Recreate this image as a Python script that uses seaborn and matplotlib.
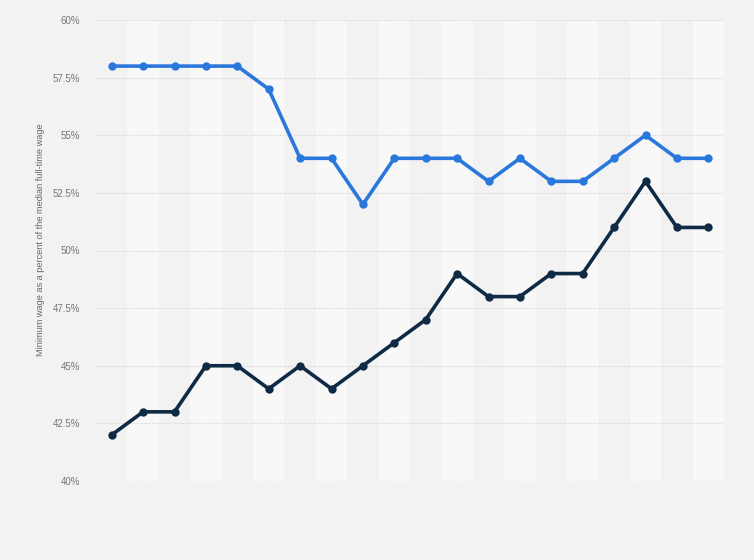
import pandas as pd
import matplotlib
matplotlib.use('Agg')
import matplotlib.pyplot as plt
import seaborn as sns

# values (x labels are not shown there)
points = list(range(20))
series_a = [58, 58, 58, 58, 58, 57, 54, 54, 52, 54, 54, 54, 53, 54, 53, 53, 54, 55, 54, 54]
series_b = [42, 43, 43, 45, 45, 44, 45, 44, 45, 46, 47, 49, 48, 48, 49, 49, 51, 53, 51, 51]
y_ticks = [40, 42.5, 45, 47.5, 50, 52.5, 55, 57.5, 60]
y_labels = ['40%', '42.5%', '45%', '47.5%', '50%', '52.5%', '55%', '57.5%', '60%']

data = pd.DataFrame({
    'point': points * 2,
    'value': series_a + series_b,
    'series': ['A'] * 20 + ['B'] * 20,
})

sns.set_style('white')
plt.rcParams['font.family'] = ['Liberation Sans', 'DejaVu Sans']

fig = plt.figure(figsize=(7.54, 5.6), dpi=100, facecolor='#f2f2f2')
ax = fig.add_axes([96 / 754, 1 - 481 / 560, 628 / 754, 461 / 560])
ax.set_facecolor('#f2f2f2')

# alternating column bands
for i in points:
    if i % 2 == 1:
        ax.axvspan(i - 0.5, i + 0.5, color='#f8f8f8', zorder=0, lw=0)

for t in y_ticks:
    ax.axhline(t, color='#d0d0d0', lw=0.8, ls=(0, (1, 1.5)), zorder=1)

sns.lineplot(data=data, x='point', y='value', hue='series',
             palette={'A': '#2b78dc', 'B': '#0f2a44'},
             marker='o', markersize=6, markeredgewidth=0, linewidth=2.6,
             legend=False, ax=ax, zorder=3)

ax.set_xlim(-0.5, 19.5)
ax.set_ylim(40, 60)
ax.set_yticks(y_ticks)
ax.set_yticklabels(y_labels, color='#777777', fontsize=7)
ax.set_xticks([])
ax.tick_params(axis='y', length=0, pad=11.5)
ax.set_xlabel('')
ax.set_ylabel('Minimum wage as a percent of the median full-time wage',
              color='#666666', fontsize=6.6)
ax.yaxis.set_label_coords(-0.082, 0.523)
for s in ax.spines.values():
    s.set_visible(False)

fig.savefig('out.png', dpi=100, facecolor=fig.get_facecolor())
